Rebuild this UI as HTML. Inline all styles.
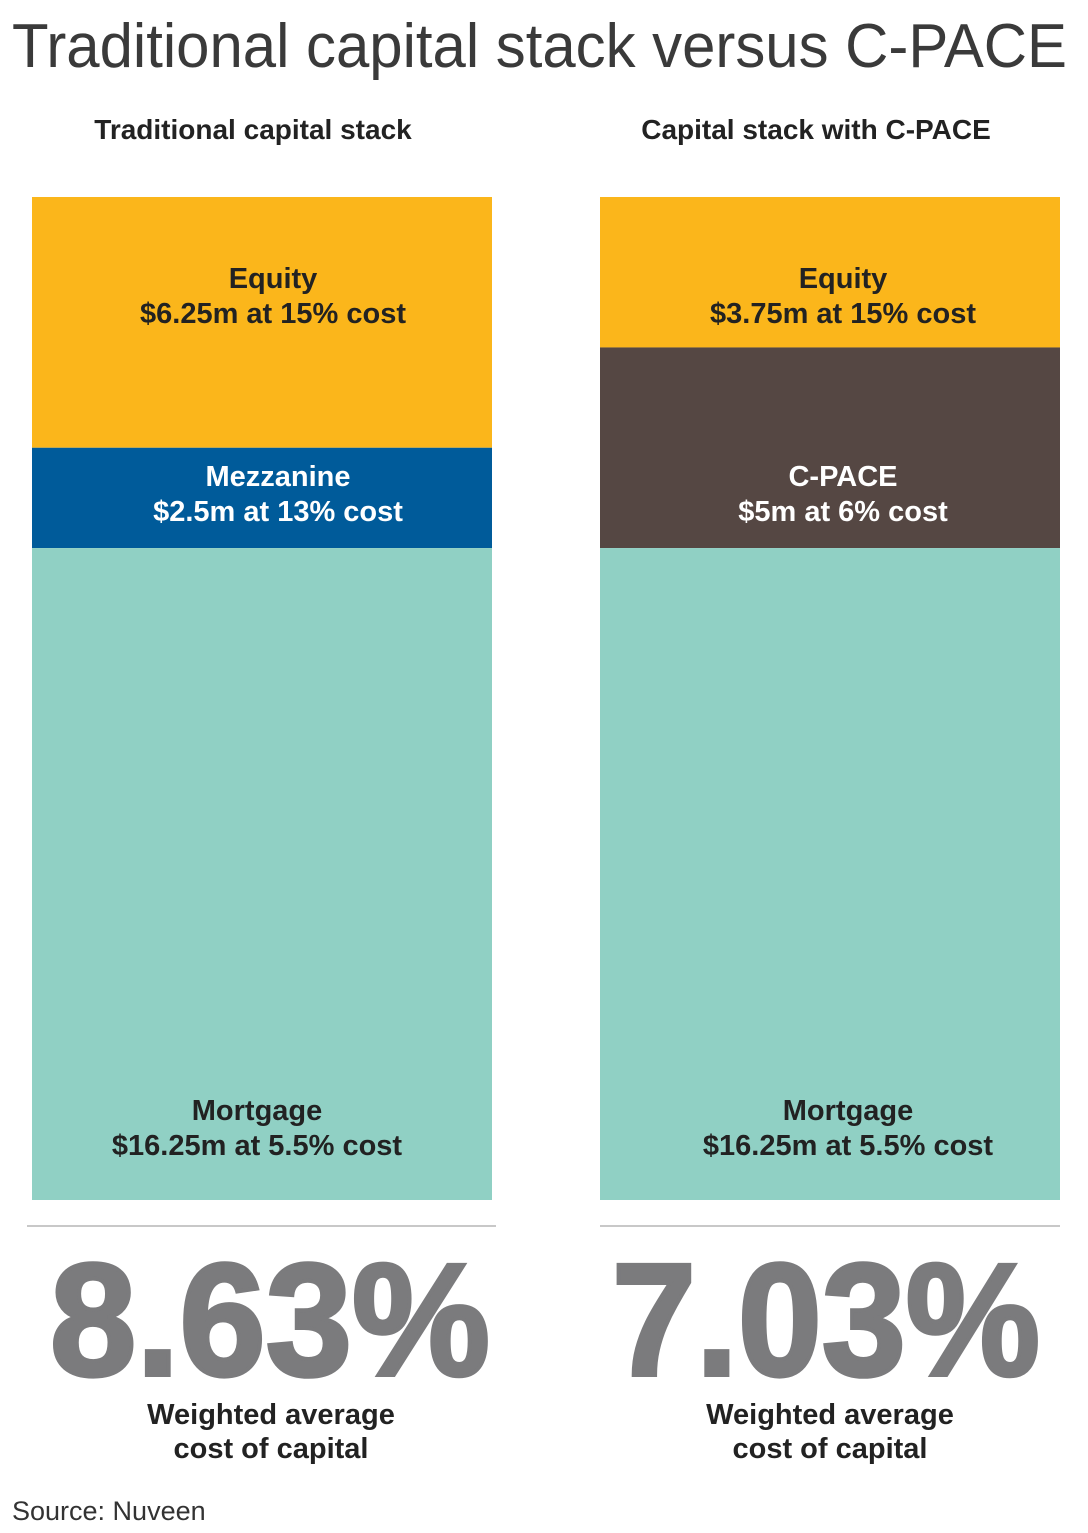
<!DOCTYPE html>
<html><head><meta charset="utf-8"><style>
html,body{margin:0;padding:0;background:#fff}
svg{display:block}
text{font-family:"Liberation Sans",sans-serif}
</style></head><body>
<svg id="chart" width="1088" height="1533" viewBox="0 0 1088 1533">
<text x="12" y="67" font-size="62" fill="#3a3a3a" textLength="1055" lengthAdjust="spacingAndGlyphs">Traditional capital stack versus C-PACE</text>
<text x="253" y="139" font-size="28" font-weight="bold" fill="#222" text-anchor="middle">Traditional capital stack</text>
<text x="816" y="139" font-size="28" font-weight="bold" fill="#222" text-anchor="middle">Capital stack with C-PACE</text>
<g id="bars"></g>
<line x1="27" y1="1226" x2="496" y2="1226" stroke="#c8c8c8" stroke-width="2"/>
<line x1="600" y1="1226" x2="1060" y2="1226" stroke="#c8c8c8" stroke-width="2"/>
<text x="50" y="1375" font-size="160" font-weight="bold" fill="#7b7b7d" stroke="#7b7b7d" stroke-width="4" textLength="440" lengthAdjust="spacingAndGlyphs">8.63%</text>
<text x="612" y="1375" font-size="160" font-weight="bold" fill="#7b7b7d" stroke="#7b7b7d" stroke-width="4" textLength="428" lengthAdjust="spacingAndGlyphs">7.03%</text>
<text x="271" y="1424" font-size="29" font-weight="bold" fill="#222" text-anchor="middle">Weighted average</text>
<text x="271" y="1458" font-size="29" font-weight="bold" fill="#222" text-anchor="middle">cost of capital</text>
<text x="830" y="1424" font-size="29" font-weight="bold" fill="#222" text-anchor="middle">Weighted average</text>
<text x="830" y="1458" font-size="29" font-weight="bold" fill="#222" text-anchor="middle">cost of capital</text>
<text x="12" y="1520" font-size="27" fill="#333">Source: Nuveen</text>
</svg>
<script>
const stacks = ["Traditional capital stack","Capital stack with C-PACE"];
const leftNames = ["Equity","Mezzanine","Mortgage"];
const leftAmounts = [6.25,2.5,16.25];
const leftLabels = ["$6.25m at 15% cost","$2.5m at 13% cost","$16.25m at 5.5% cost"];
const rightNames = ["Equity","C-PACE","Mortgage"];
const rightAmounts = [3.75,5,16.25];
const rightLabels = ["$3.75m at 15% cost","$5m at 6% cost","$16.25m at 5.5% cost"];
const colorMap = {"Equity":"#fbb61b","Mezzanine":"#005b9a","C-PACE":"#554743","Mortgage":"#90d0c4"};
const textColor = {"Equity":"#222","Mezzanine":"#fff","C-PACE":"#fff","Mortgage":"#222"};
const top0=197, bottom0=1200, total=25;
function y(v){return top0+(bottom0-top0)*v/total;}
const g=document.getElementById('bars');
const NS="http://www.w3.org/2000/svg";
function draw(x0,w,names,amts,labels,side,offs){
  let acc=0;
  names.forEach((n,i)=>{
    const y1=y(acc), y2=y(acc+amts[i]);
    const r=document.createElementNS(NS,'rect');
    r.setAttribute('x',x0);r.setAttribute('y',y1);r.setAttribute('width',w);r.setAttribute('height',y2-y1);
    r.setAttribute('fill',colorMap[n]);
    
    
    g.appendChild(r);
    const cx=x0+w/2+offs[i];
    const ty = n==="Mortgage" ? y2-80 : (n==="Equity" ? y1+91 : y2-62);
    const t1=document.createElementNS(NS,'text');
    t1.setAttribute('x',cx);t1.setAttribute('y',ty);t1.setAttribute('text-anchor','middle');
    t1.setAttribute('font-size','29');t1.setAttribute('font-weight','bold');t1.setAttribute('fill',textColor[n]);
    t1.textContent=n;
    
    
    g.appendChild(t1);
    const t2=document.createElementNS(NS,'text');
    t2.setAttribute('x',cx);t2.setAttribute('y',ty+35);t2.setAttribute('text-anchor','middle');
    t2.setAttribute('font-size','29');t2.setAttribute('font-weight','bold');t2.setAttribute('fill',textColor[n]);
    t2.textContent=labels[i];
    
    
    g.appendChild(t2);
    acc+=amts[i];
  });
}
draw(32,460,leftNames,leftAmounts,leftLabels,'left',[11,16,-5]);
draw(600,460,rightNames,rightAmounts,rightLabels,'right',[13,13,18]);
</script>
</body></html>
